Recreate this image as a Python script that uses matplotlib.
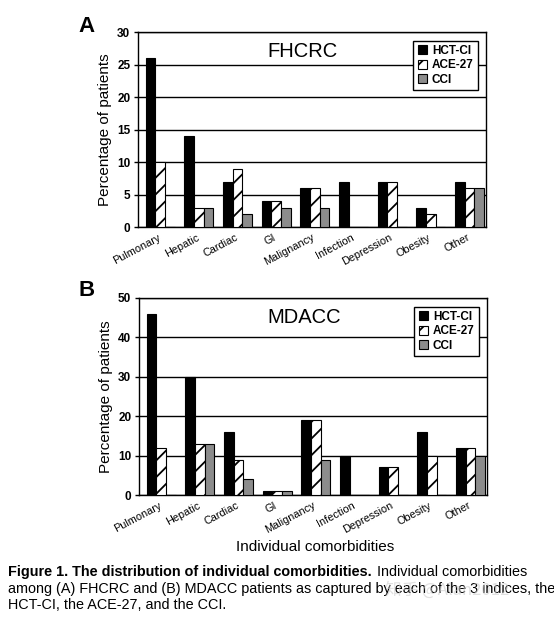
import matplotlib
matplotlib.use("Agg")
import matplotlib.pyplot as plt
import numpy as np

categories = ["Pulmonary", "Hepatic", "Cardiac", "GI", "Malignancy",
              "Infection", "Depression", "Obesity", "Other"]
series_names = ["HCT-CI", "ACE-27", "CCI"]

fhcrc_hct = [26, 14, 7, 4, 6, 7, 7, 3, 7]
fhcrc_ace = [10, 3, 9, 4, 6, 0, 7, 2, 6]
fhcrc_cci = [0, 3, 2, 3, 3, 0, 0, 0, 6]

mdacc_hct = [46, 30, 16, 1, 19, 10, 7, 16, 12]
mdacc_ace = [12, 13, 9, 1, 19, 0, 7, 10, 12]
mdacc_cci = [0, 13, 4, 1, 9, 0, 0, 0, 10]

plt.rcParams['font.family'] = ['Liberation Sans', 'DejaVu Sans']
plt.rcParams['hatch.linewidth'] = 1.3

W, H = 554, 620
fig = plt.figure(figsize=(W / 100, H / 100), dpi=100)
fig.patch.set_facecolor('white')


def axrect(l, t, r, b):
    return [l / W, 1 - b / H, (r - l) / W, (b - t) / H]


def panel(ax, hct, ace, cci, ymax, step, title):
    x = np.arange(len(categories))
    w = 0.25
    styles = [dict(color='black', edgecolor='black'),
              dict(color='white', edgecolor='black', hatch='//'),
              dict(color='#8c8c8c', edgecolor='black')]
    for i, (vals, st) in enumerate(zip([hct, ace, cci], styles)):
        ax.bar(x + (i - 1) * w + 0.07, vals, w, label=series_names[i],
               linewidth=0.8, zorder=3, **st)
    ax.set_xlim(-0.5, len(categories) - 0.5)
    ax.set_ylim(0, ymax)
    ax.set_yticks(np.arange(0, ymax + 1, step))
    ax.yaxis.grid(True, color='black', linewidth=1.0, zorder=0)
    ax.set_axisbelow(True)
    for s in ax.spines.values():
        s.set_linewidth(1.0)
        s.set_color('black')
    ax.set_xticks(x)
    ax.set_xticklabels(categories, rotation=28, ha='right',
                       rotation_mode='anchor', fontsize=7.8)
    ax.tick_params(axis='x', length=0, pad=4)
    ax.tick_params(axis='y', length=3, width=1, direction='out', labelsize=8.5,
                   pad=2.5)
    for lab in ax.get_yticklabels():
        lab.set_fontweight('bold')
    ax.set_ylabel("Percentage of patients", fontsize=11)
    ax.text(0.474, 0.95, title, transform=ax.transAxes, ha='center', va='top',
            fontsize=14.5)
    leg = ax.legend(loc='upper right', bbox_to_anchor=(0.993, 0.985),
                    fancybox=False, framealpha=1, edgecolor='black',
                    prop={'weight': 'bold', 'size': 8.5},
                    handlelength=0.8, handleheight=0.8, handletextpad=0.4,
                    borderpad=0.35, labelspacing=0.2)
    leg.get_frame().set_linewidth(1.0)
    leg.set_zorder(5)


axA = fig.add_axes(axrect(138, 32, 486, 227))
panel(axA, fhcrc_hct, fhcrc_ace, fhcrc_cci, 30, 5, "FHCRC")
axB = fig.add_axes(axrect(139, 298, 487, 495))
panel(axB, mdacc_hct, mdacc_ace, mdacc_cci, 50, 10, "MDACC")

fig.text(78 / W, 1 - 27 / H, "A", fontsize=16, fontweight='bold', va='center')
fig.text(78 / W, 1 - 290 / H, "B", fontsize=16, fontweight='bold', va='center')
fig.text(315 / W, 1 - 547 / H, "Individual comorbidities", fontsize=11,
         ha='center', va='center')

# caption
fig.canvas.draw()
r = fig.canvas.get_renderer()
cap_x = 8 / W
cs = 10.4
t1 = fig.text(cap_x, 1 - 572 / H, "Figure 1. The distribution of individual comorbidities.",
              fontsize=cs, fontweight='bold', va='center')
bb = t1.get_window_extent(renderer=r)
fig.text((bb.x1 + 5) / W, 1 - 572 / H, "Individual comorbidities",
         fontsize=cs, va='center')
fig.text(cap_x, 1 - 589 / H,
         "among (A) FHCRC and (B) MDACC patients as captured by each of the 3 indices, the",
         fontsize=cs, va='center')
fig.text(cap_x, 1 - 605 / H, "HCT-CI, the ACE-27, and the CCI.",
         fontsize=cs, va='center')
fig.text(385 / W, 1 - 590 / H, "知乎 @Alan2012", fontsize=12, va='center',
         color='#cccccc', alpha=0.6,
         family=['Noto Sans CJK SC', 'DejaVu Sans'])

fig.savefig("out.png", dpi=100, facecolor='white')
